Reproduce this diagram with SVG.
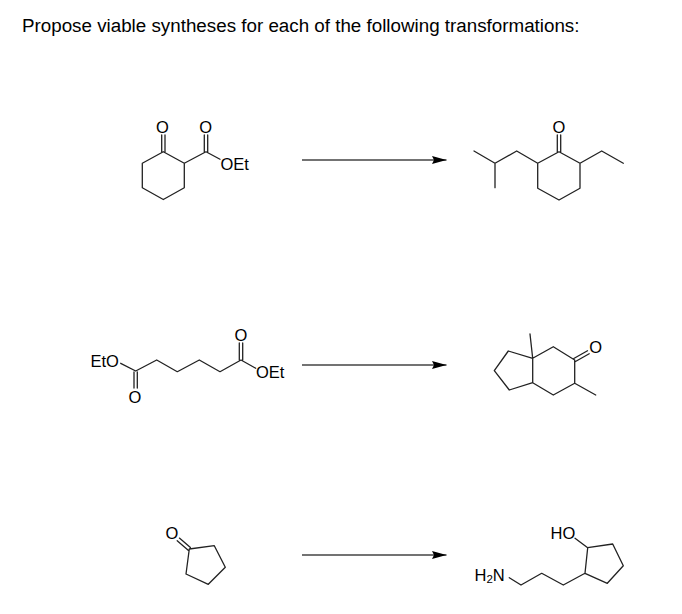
<svg xmlns="http://www.w3.org/2000/svg" width="682" height="614" viewBox="0 0 682 614">
<style>
text{font-family:"Liberation Sans",Arial,sans-serif;fill:#000}
.t{font-size:18.8px}
.a{font-size:16.5px}
.b{fill:none;stroke:#222;stroke-width:1.3;stroke-linejoin:round;stroke-linecap:round}
.r{fill:none;stroke:#444;stroke-width:1.4}
</style>
<defs><marker id="h" markerUnits="userSpaceOnUse" markerWidth="16" markerHeight="10" refX="14.5" refY="5" orient="auto"><path d="M0 1L14.5 5L0 9L2 5Z" fill="#000"/></marker></defs>
<rect width="682" height="614" fill="#fff"/>
<text id="title" class="t" x="22" y="32">Propose viable syntheses for each of the following transformations:</text>
<g id="connectors">
<line class="r" x1="302" y1="160" x2="446.5" y2="160" marker-end="url(#h)"/>
<line class="r" x1="302" y1="365" x2="446.5" y2="365" marker-end="url(#h)"/>
<line class="r" x1="302" y1="555" x2="446.5" y2="555" marker-end="url(#h)"/>
</g>
<g id="keto-ester">
<path class="b" d="M163.3 151.7L184.3 163.2V187.7L163.3 199.5L142.3 187.7V163.2ZM184.3 163.2L206 151.7L220 159.3M161.7 135V152M165 135V152M204.3 135V151.7M207.7 135V151.7"/>
<text class="a" x="162.5" y="132.6" text-anchor="middle">O</text>
<text class="a" x="205.7" y="132.6" text-anchor="middle">O</text>
<text class="a" x="220.5" y="170">OEt</text>
</g>
<g id="dialkyl-ketone">
<path class="b" d="M559 151.7L580 163.3V188.3L559 200L537.7 188.3V163.3ZM580 163.3L601.7 151L623.3 163.3M537.7 163.3L516.7 151L495 163.3L474 151M495 163.3V187.7M557.3 135V152M560.7 135V152"/>
<text class="a" x="559" y="132.6" text-anchor="middle">O</text>
</g>
<g id="diester">
<path class="b" d="M120.7 363.3L135.7 371L156.7 360L177.3 371.7L199.3 360L220 371.7L241 360L255.7 368.3M134 372V388M137.3 372V388M239.3 343V360M242.7 343V360"/>
<text class="a" x="90.5" y="367">EtO</text>
<text class="a" x="135" y="402.6" text-anchor="middle">O</text>
<text class="a" x="241" y="340.6" text-anchor="middle">O</text>
<text class="a" x="256" y="378">OEt</text>
</g>
<g id="bicyclic-ketone">
<path class="b" d="M532.7 358.3L553.3 346.7L574.7 360V383.3L553.3 395L532.7 382.7ZM532.7 382.7L509.3 390L494.3 370.7L508.3 351L532.7 358.3L530 334M574.7 383.3L595.7 395M573.8 358.5L587.5 350.7M575.5 361.5L589.2 353.7"/>
<text class="a" x="595.7" y="352.6" text-anchor="middle">O</text>
</g>
<g id="cyclopentanone">
<path class="b" d="M189.3 549L214.3 545.7L225.3 567.3L208.3 584.3L186 574ZM188.2 550.2L177.2 540.7M190.4 547.6L179.4 538.1"/>
<text class="a" x="172" y="538.6" text-anchor="middle">O</text>
</g>
<g id="amino-alcohol">
<path class="b" d="M509.3 577.7L521 585L541.7 573.3L563.3 585L585 573.3L587.7 547.7L612.7 544L623.3 565.7L607.3 583.3L585 573.3M575 538.3L587.7 547.7"/>
<text class="a" x="550.5" y="538.5">HO</text>
<text class="a" x="474.5" y="580.5">H<tspan font-size="11.5" dy="2">2</tspan><tspan dy="-2">N</tspan></text>
</g>
</svg>
